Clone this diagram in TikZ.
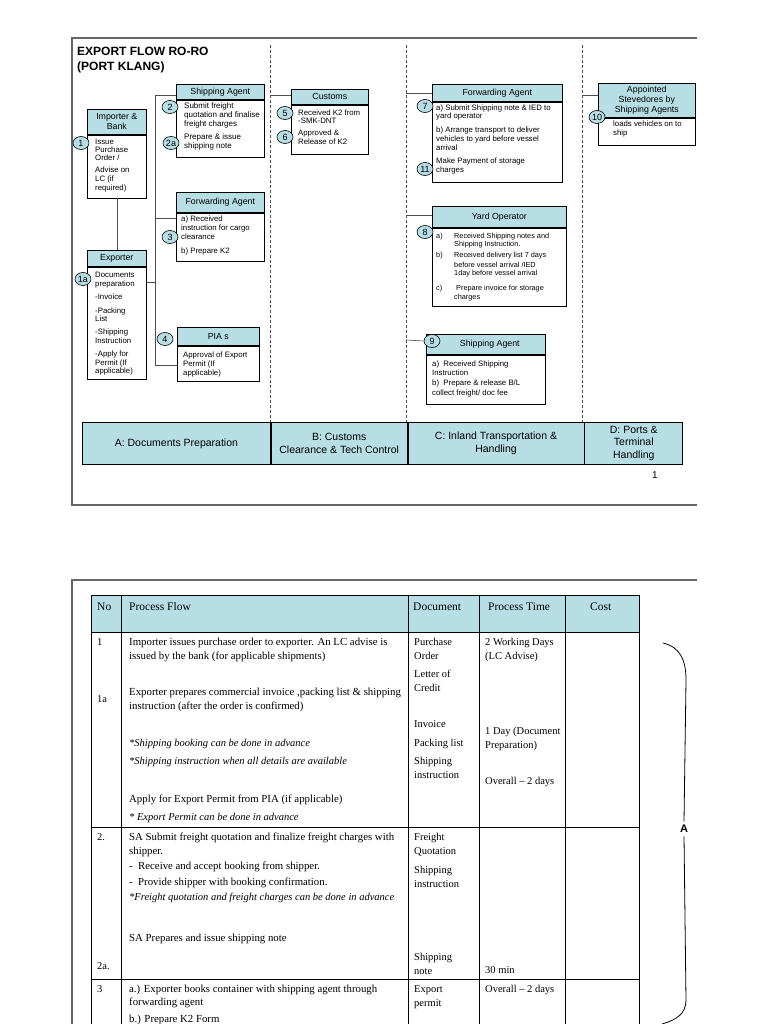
\documentclass[tikz,border=0pt]{standalone}
\usepackage{fontspec}
\setmainfont{Liberation Serif}
\setsansfont{Liberation Sans}
\usetikzlibrary{shapes.geometric, positioning}
\definecolor{hdrteal}{RGB}{183,222,228}
\newcommand{\tnote}[1]{{\fontsize{10.5}{12}\selectfont\itshape #1}}
\tikzset{
  hdr/.style={draw, fill=hdrteal, anchor=north west, inner sep=1pt, align=center,
    font=\sffamily\fontsize{8.8}{10}\selectfont, line width=0.6pt},
  bodybox/.style={draw, fill=white, anchor=north west, inner sep=0pt, line width=0.6pt},
  num/.style={ellipse, draw, fill=hdrteal, minimum width=16, minimum height=13,
    inner sep=0pt, font=\sffamily\fontsize{9}{9}\selectfont, line width=0.6pt},
  txt/.style={anchor=base west, inner sep=0pt, font=\sffamily\fontsize{7.8}{8}\selectfont},
  link/.style={draw=black!70, line width=0.6pt},
  lane/.style={draw=black!70, dash pattern=on 3pt off 2pt, line width=0.5pt},
  band/.style={draw, fill=hdrteal, anchor=north west, inner sep=0pt, align=center,
    font=\sffamily\fontsize{10.5}{12.5}\selectfont, line width=0.8pt},
  cell/.style={anchor=base west, inner sep=0pt, font=\fontsize{10.5}{12}\selectfont},
  pfcell/.style={cell, font=\fontsize{10.8}{12}\selectfont},
  thead/.style={anchor=base west, inner sep=0pt, font=\fontsize{11.5}{13}\selectfont},
  frame/.style={draw=black!60, line width=1.2pt},
}

\begin{document}
\begin{tikzpicture}[x=1pt, y=-1pt]
    \useasboundingbox (0,0) rectangle (768,1024);

    % Slide frames
    \draw[frame] (697,38) -- (72,38) -- (72,505) -- (697,505);
    \draw[frame] (697,580) -- (72,580) -- (72,1030);

    % Title
    \node[anchor=base west, inner sep=0pt, font=\sffamily\bfseries\fontsize{12}{14}\selectfont] (title) at (77,56) {EXPORT FLOW RO-RO};
    \node[anchor=base west, inner sep=0pt, font=\sffamily\bfseries\fontsize{12}{14}\selectfont] (title2) at (77,71) {(PORT KLANG)};

    % Swim lanes
    \foreach \x/\n in {270/B, 406/C, 582/D} {
        \coordinate (lane\n) at (\x,45);
        \coordinate (lane\n b) at (\x,422);
        \draw[lane] (lane\n) -- (lane\n b);
    }

    % A: Documents preparation
    \node[hdr, minimum width=59, minimum height=25] (impH) at (87,109) {Importer \&\\Bank};
    \node[bodybox, minimum width=59, minimum height=63] (impB) at (impH.south west) {};
    \foreach \y/\t in {145/Issue, 153/Purchase, 161/{Order /}, 173/Advise on, 182/LC (if, 191/required)}
        \node[txt] (imp-\y) at (95,\y) {\t};
    \node[num] (c1) at (81,143) {1};

    \node[hdr, minimum width=59, minimum height=16] (expH) at (87,250) {Exporter};
    \node[bodybox, minimum width=59, minimum height=112] (expB) at (expH.south west) {};
    \foreach \y/\t in {277/Documents, 286/preparation, 299/-Invoice, 313/-Packing, 321/List,
        334/-Shipping, 343/Instruction, 356/-Apply for, 365/Permit (If, 373/applicable)}
        \node[txt] (exp-\y) at (95,\y) {\t};
    \node[num] (c1a) at (83,279) {1a};

    \node[hdr, minimum width=88, minimum height=15] (saH) at (176,84) {Shipping Agent};
    \node[bodybox, minimum width=88, minimum height=57] (saB) at (saH.south west) {};
    \foreach \y/\t in {109/Submit freight, 118/quotation and finalise, 127/freight charges,
        140/Prepare \& issue, 149/shipping note}
        \node[txt, font=\sffamily\fontsize{8}{8}\selectfont] (sa-\y) at (184,\y) {\t};
    \node[num] (c2) at (170,107) {2};
    \node[num] (c2a) at (171,143) {2a};

    \node[hdr, minimum width=88, minimum height=20] (faaH) at (176,192) {Forwarding Agent};
    \node[bodybox, minimum width=88, minimum height=48] (faaB) at (faaH.south west) {};
    \foreach \y/\t in {222/a) Received, 231/instruction for cargo, 240/clearance, 253/b) Prepare K2}
        \node[txt] (faa-\y) at (181,\y) {\t};
    \node[num] (c3) at (170,237) {3};

    \node[hdr, minimum width=82, minimum height=18] (piaH) at (177,327) {PIA s};
    \node[bodybox, minimum width=82, minimum height=35] (piaB) at (piaH.south west) {};
    \foreach \y/\t in {357/Approval of Export, 366/Permit (If, 375/applicable)}
        \node[txt] (pia-\y) at (183,\y) {\t};
    \node[num] (c4) at (165,339) {4};

    % links in lane A
    \coordinate (trTop) at (155,95);
    \coordinate (trFa) at (155,218);
    \coordinate (trEx) at (155,282);
    \coordinate (trBot) at (155,365);
    \draw[link] (impB.south) -- (expH.north);
    \draw[link] (trTop) -- (trBot);
    \draw[link] (expB.east |- trEx) -- (trEx);
    \draw[link] (trTop) -- (trTop -| saH.west);
    \draw[link] (trFa) -- (trFa -| faaB.west);
    \draw[link] (trBot) -- (trBot -| piaB.west);

    % B: Customs
    \node[hdr, minimum width=77, minimum height=15] (cuH) at (291,89) {Customs};
    \node[bodybox, minimum width=77, minimum height=49] (cuB) at (cuH.south west) {};
    \foreach \y/\t in {116/Received K2 from, 124/-SMK-DNT, 136/Approved \&, 145/Release of K2}
        \node[txt] (cu-\y) at (298,\y) {\t};
    \node[num] (c5) at (285,113) {5};
    \node[num] (c6) at (285,137) {6};
    \coordinate (cuJ) at (270,95);
    \draw[link] (cuJ) -- (cuJ -| cuH.west);

    % C: Inland transport
    \node[hdr, minimum width=130, minimum height=17] (fcH) at (432,84) {Forwarding Agent};
    \node[bodybox, minimum width=130, minimum height=80] (fcB) at (fcH.south west) {};
    \foreach \y/\t in {111/a) Submit Shipping note \& IED to, 119/yard operator,
        133/b) Arrange transport to deliver, 142/vehicles to yard before vessel, 151/arrival,
        164/Make Payment of storage, 173/charges}
        \node[txt] (fc-\y) at (436,\y) {\t};
    \node[num] (c7) at (425,106) {7};
    \node[num] (c11) at (425,169) {11};
    \coordinate (fcJ) at (406,93);
    \draw[link] (fcJ) -- (fcJ -| fcH.west);

    \node[hdr, minimum width=134, minimum height=21] (yoH) at (432,206) {Yard Operator};
    \node[bodybox, minimum width=134, minimum height=78] (yoB) at (yoH.south west) {};
    \foreach \y/\l in {238/a), 258/b), 290/c)}
        \node[txt, font=\sffamily\fontsize{7.3}{8}\selectfont] (yol-\y) at (436,\y) {\l};
    \foreach \y/\t in {238/Received Shipping notes and, 246/Shipping Instruction.,
        258/Received delivery list 7 days, 267/{before vessel arrival /IED}, 275/1day before vessel arrival,
        290/\ Prepare invoice for storage, 299/charges}
        \node[txt, font=\sffamily\fontsize{7.3}{8}\selectfont] (yo-\y) at (454,\y) {\t};
    \node[num] (c8) at (425,232) {8};
    \coordinate (yoJ) at (406,215);
    \draw[link] (yoJ) -- (yoJ -| yoH.west);

    \node[hdr, minimum width=119, minimum height=20] (scH) at (426,334) {\hspace*{8pt}Shipping Agent};
    \node[bodybox, minimum width=119, minimum height=49] (scB) at (scH.south west) {};
    \foreach \y/\t in {366/a)\ \ Received Shipping, 375/Instruction,
        385/{b)\ \ Prepare \& release B/L}, 395/{collect freight/ doc fee}}
        \node[txt] (sc-\y) at (432,\y) {\t};
    \node[num] (c9) at (432,341) {9};
    \coordinate (scJ) at (406,340);
    \draw[link] (scJ) -- (c9.west);

    % D: Ports
    \node[hdr, minimum width=97, minimum height=34] (stH) at (598,83) {Appointed\\Stevedores by\\Shipping Agents};
    \node[bodybox, minimum width=97, minimum height=27] (stB) at (stH.south west) {};
    \foreach \y/\t in {127/loads vehicles on to, 136/ship}
        \node[txt] (st-\y) at (613,\y) {\t};
    \node[num] (c10) at (597,117) {10};
    \coordinate (stJ) at (582,95);
    \draw[link] (stJ) -- (stJ -| stH.west);

    % Stage band
    \node[band, minimum width=188, minimum height=42] (bandA) at (82,422) {A: Documents Preparation};
    \node[band, minimum width=136, minimum height=42] (bandB) at (bandA.north east) {B: Customs\\Clearance \& Tech Control};
    \node[band, minimum width=176, minimum height=42] (bandC) at (bandB.north east) {C: Inland Transportation \&\\Handling};
    \node[band, minimum width=98, minimum height=42] (bandD) at (bandC.north east) {D: Ports \&\\Terminal\\Handling};
    \node[font=\sffamily\fontsize{10}{10}\selectfont] (pgno) at (655,475) {1};

    % Table
    \fill[hdrteal] (91,595) rectangle (639,632);
    \draw[line width=0.9pt] (91,595) rectangle (639,1030);
    \foreach \y in {632,827,979}
        \draw[line width=0.9pt] (91,\y) -- (639,\y);
    \foreach \x in {121,408,479,565}
        \draw[line width=0.9pt] (\x,595) -- (\x,1030);
    \foreach \x/\t in {97/No, 129/Process Flow, 413/Document, 488/Process Time, 590/Cost}
        \node[thead] (th-\x) at (\x,610) {\t};

    \foreach \y/\t in {645/1, 702/1a, 840/2., 969/2a., 992/3}
        \node[cell] (no-\y) at (97,\y) {\t};
    \foreach \y/\t in {
        645/Importer issues purchase order to exporter. An LC advise is,
        659/issued by the bank (for applicable shipments),
        695/{Exporter prepares commercial invoice ,packing list \& shipping},
        709/instruction (after the order is confirmed),
        746/\tnote{*Shipping booking can be done in advance},
        764/\tnote{*Shipping instruction when all details are available},
        802/Apply for Export Permit from PIA (if applicable),
        820/\tnote{* Export Permit can be done in advance},
        840/SA Submit freight quotation and finalize freight charges with,
        854/shipper.,
        869/-\ \ Receive and accept booking from shipper.,
        885/-\ \ Provide shipper with booking confirmation.,
        900/\tnote{*Freight quotation and freight charges can be done in advance},
        941/SA Prepares and issue shipping note,
        992/a.) Exporter books container with shipping agent through,
        1005/forwarding agent,
        1022/b.) Prepare K2 Form}
        \node[pfcell] (pf-\y) at (129,\y) {\t};
    \foreach \y/\t in {645/Purchase, 659/Order, 677/Letter of, 691/Credit, 727/Invoice,
        746/Packing list, 764/Shipping, 778/instruction, 840/Freight, 854/Quotation,
        873/Shipping, 887/instruction, 960/Shipping, 974/note, 992/Export, 1006/permit}
        \node[cell] (doc-\y) at (414,\y) {\t};
    \foreach \y/\t in {645/2 Working Days, 659/(LC Advise), 734/1 Day (Document,
        748/Preparation), 784/Overall -- 2 days, 973/30 min, 992/Overall -- 2 days}
        \node[cell] (pt-\y) at (485,\y) {\t};

    % Brace for stage A
    \node[font=\sffamily\bfseries\fontsize{11}{11}\selectfont] (braceA) at (684,829) {A};
    \draw[line width=0.8pt] (663,643) .. controls (680,647) and (686,660) .. (686,680) -- (braceA.north);
    \draw[line width=0.8pt] (braceA.south) -- (686,1000) .. controls (686,1014) and (676,1020) .. (662,1024);
\end{tikzpicture}
\end{document}
